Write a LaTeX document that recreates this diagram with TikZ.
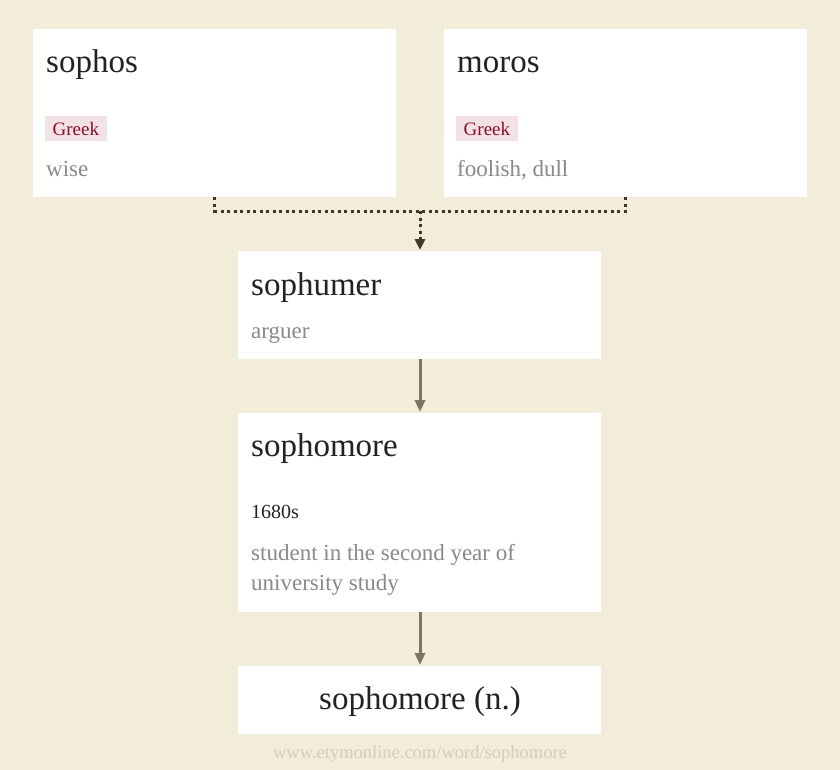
\documentclass[tikz,border=0pt]{standalone}
\usepackage{fontspec}
\setmainfont{Liberation Serif}
\usepackage{xcolor}
\usepackage{tikz}
\usetikzlibrary{positioning, arrows.meta}

\definecolor{paper}{HTML}{F2ECDB}
\definecolor{ink}{HTML}{222222}
\definecolor{glossgray}{HTML}{898989}
\definecolor{tagred}{HTML}{8B0C2E}
\definecolor{tagpink}{HTML}{F3E2E5}
\definecolor{dotink}{HTML}{3D382C}
\definecolor{arrowgray}{HTML}{7B7566}
\definecolor{footgray}{HTML}{D3CCBC}

\begin{document}
\begin{tikzpicture}[
    x=1pt, y=-1pt,
    wordbox/.style={rectangle, fill=white, minimum width=363pt, inner sep=0pt, anchor=north west},
    headword/.style={font=\fontsize{33}{38}\selectfont, text=ink, inner sep=0pt, anchor=base west},
    langtag/.style={font=\fontsize{19}{22}\selectfont, text=tagred, fill=tagpink, inner xsep=7.5pt, inner ysep=3pt,
        text height=17pt, text depth=2pt, anchor=base west},
    gloss/.style={font=\fontsize{23}{30}\selectfont, text=glossgray, inner sep=0pt, anchor=base west, align=left},
    datetag/.style={font=\fontsize{20}{22}\selectfont, text=ink, inner sep=0pt, anchor=base west},
    derive/.style={-{Triangle[length=12pt, width=10pt]}, line width=3pt, draw=arrowgray, fill=arrowgray},
    merge/.style={line width=3pt, draw=dotink, dash pattern=on 3pt off 3.5pt}
]

% Background
\fill[paper] (0,0) rectangle (840,770);
\useasboundingbox (0,0) rectangle (840,770);

% Source words
\node[wordbox, minimum height=168pt] (sophos) at (33,29) {};
\node[wordbox, minimum height=168pt] (moros) at (444,29) {};
\node[headword] (sophosword) at (46,73) {sophos};
\node[langtag] (sophoslang) at (45,136) {Greek};
\node[gloss] (sophosgloss) at (46,177) {wise};
\node[headword] (morosword) at (457,73) {moros};
\node[langtag] (moroslang) at (456,136) {Greek};
\node[gloss] (morosgloss) at (457,177) {foolish, dull};

% Intermediate forms
\node[wordbox, minimum height=108pt] (sophumer) at (238,251) {};
\node[headword] (sophumerword) at (251,295) {sophumer};
\node[gloss] (sophumergloss) at (251,338) {arguer};

\node[wordbox, minimum height=199pt] (sophomore) at (238,413) {};
\node[headword] (sophomoreword) at (251,456) {sophomore};
\node[datetag] (sophomoredate) at (251,518) {1680s};
\node[gloss] (sophomoregloss) at (251,590) {student in the second year of\\university study};

% Final entry
\node[wordbox, minimum height=68pt] (entry) at (238,666) {};
\node[headword, anchor=base] (entryword) at (420,709) {sophomore (n.)};

% Footer
\node[font=\fontsize{18.5}{20}\selectfont, text=footgray, inner sep=0pt, anchor=base] (footer) at (420,758)
    {www.etymonline.com/word/sophomore};

% Edges
\coordinate (join) at (420,211);
\draw[merge] (sophos.south) |- (join) -| (moros.south);
\draw[merge, -{Triangle[length=11pt, width=10pt]}, fill=dotink, shorten >=1pt] (join) -- (sophumer.north -| join);
\draw[derive, shorten >=1pt] (sophumer.south -| join) -- (sophomore.north -| join);
\draw[derive, shorten >=1pt] (sophomore.south -| join) -- (entry.north -| join);

\end{tikzpicture}
\end{document}
